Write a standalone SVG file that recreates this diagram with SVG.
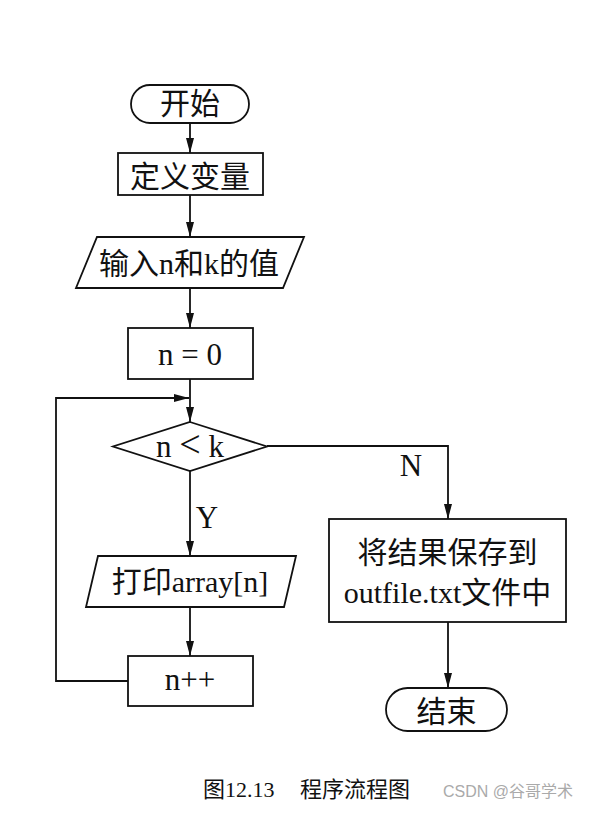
<svg xmlns="http://www.w3.org/2000/svg" width="595" height="813" viewBox="0 0 595 813">
<style>
.s{fill:#fff;stroke:#111;stroke-width:1.8}
.t{font-family:"Liberation Serif","Noto Sans CJK SC",serif;font-size:30px;fill:#111;text-anchor:middle}
.c{fill:none;stroke:#111;stroke-width:1.8}
</style>
<defs>
<marker id="arr" markerWidth="15" markerHeight="9" refX="15" refY="4.5" orient="auto" markerUnits="userSpaceOnUse">
<path d="M0,0.5 L15,4.5 L0,8.5 Z" fill="#111"/>
</marker>
</defs>
<rect width="595" height="813" fill="#fff"/>
<g id="connectors">
<path class="c" d="M190,123 V153" marker-end="url(#arr)"/>
<path class="c" d="M190,195 V237" marker-end="url(#arr)"/>
<path class="c" d="M190,288 V328" marker-end="url(#arr)"/>
<path class="c" d="M190,379 V422" marker-end="url(#arr)"/>
<path class="c" d="M128,681 H56 V398 H189" marker-end="url(#arr)"/>
<path class="c" d="M190,471 V556" marker-end="url(#arr)"/>
<path class="c" d="M267,446 H448 V519" marker-end="url(#arr)"/>
<path class="c" d="M190,607 V656" marker-end="url(#arr)"/>
<path class="c" d="M448,622 V688" marker-end="url(#arr)"/>
<text class="t" x="207" y="528" style="font-size:31px">Y</text>
<text class="t" x="411" y="476" style="font-size:31px">N</text>
</g>
<g id="start">
<rect class="s" x="131" y="85" width="118" height="38" rx="19"/>
<text class="t" x="190" y="114">开始</text>
</g>
<g id="define">
<rect class="s" x="118" y="153" width="145" height="42"/>
<text class="t" x="190" y="187">定义变量</text>
</g>
<g id="input">
<polygon class="s" points="97,237 304,237 283,288 76,288"/>
<text class="t" x="189" y="274">输入n和k的值</text>
</g>
<g id="init">
<rect class="s" x="128" y="328" width="125" height="51"/>
<text class="t" x="190" y="365" style="font-size:31px">n = 0</text>
</g>
<g id="cond">
<polygon class="s" points="190,422 267,446.5 190,471 113,446.5"/>
<text class="t" x="190" y="457" style="font-size:31px">n <tspan style="font-size:38px">&lt;</tspan> k</text>
</g>
<g id="print">
<polygon class="s" points="98,556 296,556 284,607 86,607"/>
<text class="t" x="190" y="592">打印array[n]</text>
</g>
<g id="inc">
<rect class="s" x="128" y="656" width="125" height="50"/>
<text class="t" x="190" y="690" style="font-size:31px">n++</text>
</g>
<g id="save">
<rect class="s" x="329" y="519" width="237" height="103"/>
<text class="t" x="447.5" y="563">将结果保存到</text>
<text class="t" x="447.5" y="603">outfile.txt文件中</text>
</g>
<g id="end">
<rect class="s" x="386" y="688" width="121" height="43" rx="21.5"/>
<text class="t" x="446.5" y="722">结束</text>
</g>
<g id="caption">
<text x="203" y="797" style="font-family:'Liberation Serif','Noto Sans CJK SC',serif;font-size:22px;fill:#111">图12.13</text>
<text x="300" y="797" style="font-family:'Liberation Serif','Noto Sans CJK SC',serif;font-size:22px;fill:#111">程序流程图</text>
<text x="443" y="797" style="font-family:'Liberation Sans','Noto Sans CJK SC',sans-serif;font-size:16px;fill:#aaa">CSDN @谷哥学术</text>
</g>
</svg>
